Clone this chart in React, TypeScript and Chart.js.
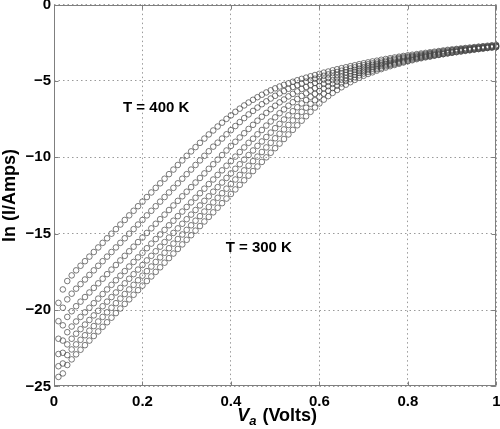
import { useEffect, useRef } from "react";
import { Chart, registerables } from "chart.js";

Chart.register(...registerables);

// Applied voltage V_a (Volts)
const voltage = [
  0.01, 0.02, 0.03, 0.04, 0.05, 0.06, 0.07, 0.08, 0.09, 0.10,
  0.11, 0.12, 0.13, 0.14, 0.15, 0.16, 0.17, 0.18, 0.19, 0.20,
  0.21, 0.22, 0.23, 0.24, 0.25, 0.26, 0.27, 0.28, 0.29, 0.30,
  0.31, 0.32, 0.33, 0.34, 0.35, 0.36, 0.37, 0.38, 0.39, 0.40,
  0.41, 0.42, 0.43, 0.44, 0.45, 0.46, 0.47, 0.48, 0.49, 0.50,
  0.51, 0.52, 0.53, 0.54, 0.55, 0.56, 0.57, 0.58, 0.59, 0.60,
  0.61, 0.62, 0.63, 0.64, 0.65, 0.66, 0.67, 0.68, 0.69, 0.70,
  0.71, 0.72, 0.73, 0.74, 0.75, 0.76, 0.77, 0.78, 0.79, 0.80,
  0.81, 0.82, 0.83, 0.84, 0.85, 0.86, 0.87, 0.88, 0.89, 0.90,
  0.91, 0.92, 0.93, 0.94, 0.95, 0.96, 0.97, 0.98, 0.99, 1.00,
];

// ln(I/Amps) per temperature
const lnI_400K = [
  -19.53, -18.65, -18.10, -17.73, -17.40, -17.10, -16.80, -16.50, -16.20, -15.90,
  -15.60, -15.30, -15.00, -14.70, -14.40, -14.10, -13.80, -13.50, -13.20, -12.90,
  -12.60, -12.30, -12.00, -11.70, -11.40, -11.10, -10.80, -10.50, -10.20, -9.90,
  -9.61, -9.33, -9.05, -8.77, -8.50, -8.24, -7.98, -7.73, -7.48, -7.25,
  -7.02, -6.81, -6.60, -6.41, -6.23, -6.06, -5.90, -5.75, -5.61, -5.48,
  -5.36, -5.25, -5.15, -5.05, -4.95, -4.86, -4.78, -4.69, -4.61, -4.53,
  -4.45, -4.38, -4.30, -4.23, -4.16, -4.10, -4.03, -3.97, -3.90, -3.84,
  -3.78, -3.72, -3.67, -3.61, -3.56, -3.51, -3.46, -3.41, -3.36, -3.32,
  -3.28, -3.24, -3.20, -3.16, -3.12, -3.08, -3.04, -3.00, -2.96, -2.93,
  -2.90, -2.87, -2.84, -2.81, -2.78, -2.75, -2.72, -2.69, -2.66, -2.64,
];
const lnI_383K = [
  -20.73, -19.85, -19.30, -18.93, -18.60, -18.30, -18.00, -17.70, -17.40, -17.10,
  -16.80, -16.50, -16.20, -15.90, -15.60, -15.30, -15.00, -14.70, -14.40, -14.10,
  -13.80, -13.50, -13.20, -12.90, -12.60, -12.30, -12.00, -11.70, -11.40, -11.10,
  -10.80, -10.50, -10.20, -9.90, -9.60, -9.30, -9.04, -8.77, -8.49, -8.22,
  -7.95, -7.69, -7.43, -7.19, -6.96, -6.74, -6.52, -6.33, -6.15, -5.97,
  -5.81, -5.66, -5.51, -5.39, -5.27, -5.16, -5.04, -4.94, -4.85, -4.75,
  -4.66, -4.57, -4.48, -4.41, -4.33, -4.26, -4.18, -4.11, -4.03, -3.97,
  -3.91, -3.85, -3.79, -3.73, -3.67, -3.61, -3.55, -3.49, -3.44, -3.40,
  -3.36, -3.31, -3.27, -3.23, -3.18, -3.14, -3.10, -3.05, -3.01, -2.98,
  -2.94, -2.91, -2.88, -2.85, -2.82, -2.78, -2.76, -2.73, -2.70, -2.68,
];
const lnI_367K = [
  -21.88, -21.00, -20.45, -20.08, -19.75, -19.45, -19.15, -18.85, -18.55, -18.25,
  -17.95, -17.65, -17.35, -17.05, -16.75, -16.45, -16.15, -15.85, -15.55, -15.25,
  -14.95, -14.65, -14.35, -14.05, -13.75, -13.45, -13.15, -12.85, -12.55, -12.25,
  -11.95, -11.65, -11.35, -11.05, -10.75, -10.45, -10.15, -9.85, -9.55, -9.25,
  -8.98, -8.70, -8.42, -8.14, -7.87, -7.60, -7.34, -7.09, -6.85, -6.62,
  -6.40, -6.21, -6.01, -5.84, -5.68, -5.52, -5.39, -5.26, -5.13, -5.01,
  -4.91, -4.81, -4.71, -4.61, -4.51, -4.43, -4.35, -4.27, -4.19, -4.10,
  -4.02, -3.95, -3.89, -3.83, -3.76, -3.70, -3.64, -3.57, -3.51, -3.46,
  -3.42, -3.38, -3.33, -3.29, -3.24, -3.20, -3.15, -3.11, -3.07, -3.02,
  -2.98, -2.95, -2.92, -2.89, -2.85, -2.82, -2.79, -2.76, -2.73, -2.70,
];
const lnI_350K = [
  -22.88, -22.00, -21.45, -21.08, -20.75, -20.45, -20.15, -19.85, -19.55, -19.25,
  -18.95, -18.65, -18.35, -18.05, -17.75, -17.45, -17.15, -16.85, -16.55, -16.25,
  -15.95, -15.65, -15.35, -15.05, -14.75, -14.45, -14.15, -13.85, -13.55, -13.25,
  -12.95, -12.65, -12.35, -12.05, -11.75, -11.45, -11.15, -10.85, -10.55, -10.25,
  -9.95, -9.65, -9.35, -9.05, -8.78, -8.49, -8.21, -7.92, -7.65, -7.38,
  -7.11, -6.86, -6.62, -6.39, -6.18, -5.98, -5.81, -5.63, -5.47, -5.33,
  -5.19, -5.06, -4.94, -4.83, -4.72, -4.61, -4.50, -4.42, -4.34, -4.25,
  -4.17, -4.08, -3.99, -3.93, -3.86, -3.79, -3.73, -3.66, -3.59, -3.53,
  -3.47, -3.43, -3.38, -3.34, -3.29, -3.25, -3.20, -3.16, -3.11, -3.07,
  -3.02, -2.98, -2.95, -2.92, -2.88, -2.85, -2.82, -2.78, -2.76, -2.73,
];
const lnI_333K = [
  -23.68, -22.80, -22.25, -21.88, -21.55, -21.25, -20.95, -20.65, -20.35, -20.05,
  -19.75, -19.45, -19.15, -18.85, -18.55, -18.25, -17.95, -17.65, -17.35, -17.05,
  -16.75, -16.45, -16.15, -15.85, -15.55, -15.25, -14.95, -14.65, -14.35, -14.05,
  -13.75, -13.45, -13.15, -12.85, -12.55, -12.25, -11.95, -11.65, -11.35, -11.05,
  -10.75, -10.45, -10.15, -9.85, -9.55, -9.25, -8.96, -8.67, -8.38, -8.09,
  -7.81, -7.52, -7.25, -6.98, -6.72, -6.47, -6.25, -6.03, -5.84, -5.66,
  -5.49, -5.34, -5.19, -5.05, -4.92, -4.81, -4.69, -4.58, -4.47, -4.38,
  -4.29, -4.20, -4.11, -4.02, -3.94, -3.88, -3.81, -3.74, -3.67, -3.60,
  -3.53, -3.48, -3.43, -3.38, -3.34, -3.29, -3.25, -3.20, -3.15, -3.11,
  -3.06, -3.01, -2.98, -2.94, -2.91, -2.87, -2.84, -2.81, -2.77, -2.74,
];
const lnI_317K = [
  -24.38, -23.50, -22.95, -22.58, -22.25, -21.95, -21.65, -21.35, -21.05, -20.75,
  -20.45, -20.15, -19.85, -19.55, -19.25, -18.95, -18.65, -18.35, -18.05, -17.75,
  -17.45, -17.15, -16.85, -16.55, -16.25, -15.95, -15.65, -15.35, -15.05, -14.75,
  -14.45, -14.15, -13.85, -13.55, -13.25, -12.95, -12.65, -12.35, -12.05, -11.75,
  -11.45, -11.15, -10.85, -10.55, -10.25, -9.95, -9.65, -9.35, -9.05, -8.75,
  -8.46, -8.17, -7.88, -7.58, -7.30, -7.02, -6.75, -6.49, -6.26, -6.03,
  -5.83, -5.64, -5.46, -5.31, -5.16, -5.00, -4.88, -4.75, -4.63, -4.51,
  -4.41, -4.32, -4.22, -4.13, -4.03, -3.95, -3.88, -3.81, -3.74, -3.67,
  -3.59, -3.52, -3.47, -3.42, -3.38, -3.33, -3.28, -3.24, -3.19, -3.14,
  -3.10, -3.05, -3.00, -2.97, -2.93, -2.90, -2.86, -2.83, -2.80, -2.76,
];
const lnI_300K = [
  null, -24.15, -23.60, -23.23, -22.90, -22.60, -22.30, -22.00, -21.70, -21.40,
  -21.10, -20.80, -20.50, -20.20, -19.90, -19.60, -19.30, -19.00, -18.70, -18.40,
  -18.10, -17.80, -17.50, -17.20, -16.90, -16.60, -16.30, -16.00, -15.70, -15.40,
  -15.10, -14.80, -14.50, -14.20, -13.90, -13.60, -13.30, -13.00, -12.70, -12.40,
  -12.10, -11.80, -11.50, -11.20, -10.90, -10.60, -10.30, -10.00, -9.70, -9.40,
  -9.10, -8.80, -8.50, -8.20, -7.90, -7.60, -7.31, -7.02, -6.74, -6.47,
  -6.22, -5.99, -5.78, -5.59, -5.41, -5.24, -5.08, -4.93, -4.79, -4.66,
  -4.54, -4.43, -4.32, -4.22, -4.12, -4.03, -3.95, -3.87, -3.79, -3.71,
  -3.64, -3.57, -3.51, -3.45, -3.40, -3.34, -3.29, -3.24, -3.19, -3.15,
  -3.11, -3.07, -3.03, -2.99, -2.95, -2.91, -2.88, -2.84, -2.81, -2.78,
];

const seriesNames = ["400 K", "383 K", "367 K", "350 K", "333 K", "317 K", "300 K"];
const seriesValues = [lnI_400K, lnI_383K, lnI_367K, lnI_350K, lnI_333K, lnI_317K, lnI_300K];

const xTicks = [0, 0.2, 0.4, 0.6, 0.8, 1];
const yTicks = [0, -5, -10, -15, -20, -25];

const annotationTexts = ["T = 400 K", "T = 300 K"];
const annotationX = [0.231, 0.463];
const annotationY = [-7.0, -16.2];

const FONT = '"Liberation Sans", Arial, sans-serif';

const decorPlugin = {
  id: "decor",
  afterDraw(chart: any) {
    const { ctx, chartArea: a, scales } = chart;
    const xs = scales.x;
    const ys = scales.y;
    ctx.save();
    // frame
    ctx.strokeStyle = "#7f7f7f";
    ctx.lineWidth = 1;
    const L = Math.round(a.left) + 0.5;
    const R = Math.round(a.right) - 0.5;
    const T = Math.round(a.top) + 0.5;
    const B = Math.round(a.bottom) - 0.5;
    ctx.strokeRect(L, T, R - L, B - T);
    // inward tick marks
    ctx.beginPath();
    for (const v of xTicks) {
      const px = Math.round(xs.getPixelForValue(v)) + 0.5;
      ctx.moveTo(px, B);
      ctx.lineTo(px, B - 4);
      ctx.moveTo(px, T);
      ctx.lineTo(px, T + 4);
    }
    for (const v of yTicks) {
      const py = Math.round(ys.getPixelForValue(v)) + 0.5;
      ctx.moveTo(L, py);
      ctx.lineTo(L + 4, py);
      ctx.moveTo(R, py);
      ctx.lineTo(R - 4, py);
    }
    ctx.stroke();

    // annotations
    ctx.fillStyle = "#000";
    ctx.font = `bold 15px ${FONT}`;
    ctx.textAlign = "center";
    ctx.textBaseline = "alphabetic";
    annotationTexts.forEach((t, i) => {
      ctx.fillText(t, xs.getPixelForValue(annotationX[i]), ys.getPixelForValue(annotationY[i]));
    });

    // x-axis title: V_a (Volts)
    const big = `bold 18px ${FONT}`;
    const bigItalic = `italic bold 18px ${FONT}`;
    const subItalic = `italic bold 13px ${FONT}`;
    ctx.textAlign = "left";
    ctx.font = bigItalic;
    const wV = ctx.measureText("V").width;
    ctx.font = subItalic;
    const wA = ctx.measureText("a").width;
    ctx.font = big;
    const wRest = ctx.measureText(" (Volts)").width;
    const total = wV + wA + 1 + wRest;
    let x0 = (a.left + a.right) / 2 - total / 2 + 2;
    const base = a.bottom + 35;
    ctx.font = bigItalic;
    ctx.fillText("V", x0, base);
    x0 += wV;
    ctx.font = subItalic;
    ctx.fillText("a", x0, base + 4);
    x0 += wA + 1;
    ctx.font = big;
    ctx.fillText(" (Volts)", x0, base);

    // y-axis title
    ctx.save();
    ctx.translate(15, (a.top + a.bottom) / 2);
    ctx.rotate(-Math.PI / 2);
    ctx.textAlign = "center";
    ctx.textBaseline = "alphabetic";
    ctx.font = big;
    ctx.fillText("ln (I/Amps)", 0, 0);
    ctx.restore();

    ctx.restore();
  },
};

export default function App() {
  const canvasRef = useRef<HTMLCanvasElement | null>(null);

  useEffect(() => {
    document.body.style.margin = "0";
    const canvas = canvasRef.current;
    if (!canvas) return;

    const datasets = seriesValues.map((vals, i) => ({
      label: seriesNames[i],
      data: voltage.map((v, j) => ({ x: v, y: vals[j] })),
      showLine: false,
      pointStyle: "circle",
      pointRadius: 2.8,
      pointBorderWidth: 0.9,
      pointBorderColor: "rgba(70,70,70,0.8)",
      pointBackgroundColor: "rgba(0,0,0,0)",
      pointHoverRadius: 2.8,
      clip: 3,
    }));

    const tickFont = { family: FONT, size: 15, weight: "bold" as const };

    const chart = new Chart(canvas, {
      type: "scatter",
      data: { datasets },
      options: {
        animation: false,
        responsive: false,
        events: [],
        layout: { padding: { top: 4.65, right: 2.5, left: 0, bottom: 0 } },
        plugins: {
          legend: { display: false },
          tooltip: { enabled: false },
        },
        scales: {
          x: {
            type: "linear",
            min: 0,
            max: 1,
            afterBuildTicks: (s: any) => {
              s.ticks = xTicks.map((v) => ({ value: v }));
            },
            afterFit: (s: any) => {
              s.height = 42.6;
              s.paddingLeft = 0;
              s.paddingRight = 0;
            },
            ticks: {
              autoSkip: false,
              maxRotation: 0,
              padding: 6,
              color: "#000",
              font: tickFont,
              callback: (v: any) => String(Number(Number(v).toFixed(1))),
            },
            grid: {
              color: "#9a9a9a",
              lineWidth: 1,
              drawTicks: false,
            },
            border: { display: false, dash: [1.5, 3] },
          },
          y: {
            type: "linear",
            min: -25,
            max: 0,
            afterBuildTicks: (s: any) => {
              s.ticks = yTicks.map((v) => ({ value: v }));
            },
            afterFit: (s: any) => {
              s.width = 54;
              s.paddingTop = 0;
              s.paddingBottom = 0;
            },
            ticks: {
              autoSkip: false,
              padding: 3,
              color: "#000",
              font: tickFont,
              callback: (v: any) => {
                const n = Number(v);
                return n < 0 ? "\u2212" + Math.abs(n) : String(n);
              },
            },
            grid: {
              color: "#9a9a9a",
              lineWidth: 1,
              drawTicks: false,
            },
            border: { display: false, dash: [1.5, 3] },
          },
        },
      },
      plugins: [decorPlugin],
    } as any);

    return () => chart.destroy();
  }, []);

  return (
    <div style={{ position: "absolute", left: 0, top: 0, width: 500, height: 429 }}>
      <canvas ref={canvasRef} width={500} height={429} style={{ display: "block" }} />
    </div>
  );
}
